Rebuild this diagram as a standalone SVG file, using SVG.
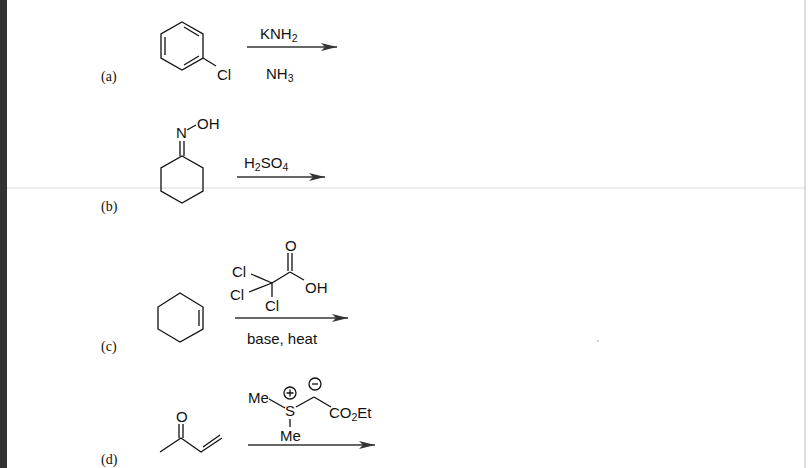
<svg xmlns="http://www.w3.org/2000/svg" width="808" height="468" viewBox="0 0 808 468">
<defs>
<marker id="ah" viewBox="0 0 16 8" refX="16" refY="4" markerWidth="16" markerHeight="8" markerUnits="userSpaceOnUse" orient="auto"><path d="M0,0 L16,4 L0,8 L4,4 Z" fill="#333"/></marker>
</defs>
<style>
.b{stroke:#111;stroke-width:1.3;fill:none}
.ar{stroke:#333;stroke-width:1.5;fill:none;marker-end:url(#ah)}
.t{font-family:"Liberation Sans",Arial,sans-serif;font-size:15px;fill:#111}
.s{font-size:10.5px}
.lab{font-family:"Liberation Serif","Times New Roman",serif;font-size:14px;fill:#111}
</style>
<rect width="808" height="468" fill="#fff"/>
<rect x="0" y="0" width="7" height="468" fill="#333"/>
<line x1="7" y1="188" x2="805" y2="188" stroke="#e6e6e6" stroke-width="1.5"/>
<line x1="805" y1="0" x2="805" y2="468" stroke="#bbb" stroke-width="1"/>
<g id="labels">
<text class="lab" x="101" y="81">(a)</text>
<text class="lab" x="101" y="211">(b)</text>
<text class="lab" x="101" y="351">(c)</text>
<text class="lab" x="101" y="464">(d)</text>
</g>
<g id="chlorobenzene">
<path class="b" d="M182,22 L203,34 L203,58 L182,70 L161,58 L161,34 Z"/>
<path class="b" d="M165,37 L165,55 M184,27 L199,36 M199,56 L184,65"/>
<line class="b" x1="203" y1="58" x2="216" y2="66"/>
<text class="t" x="217" y="80">Cl</text>
</g>
<g id="oxime">
<text class="t" x="176" y="138">N</text>
<line class="b" x1="187" y1="130" x2="196" y2="125"/>
<text class="t" x="197" y="129">OH</text>
<path class="b" d="M180,141 L180,156 M184,141 L184,156"/>
<path class="b" d="M182,156 L203,168 L203,191 L182,203 L161,191 L161,168 Z"/>
</g>
<g id="cyclohexene">
<path class="b" d="M180,293 L203,307 L203,329 L180,342 L158,329 L158,307 Z"/>
<line class="b" x1="199" y1="310" x2="199" y2="326"/>
</g>
<g id="tca">
<text class="t" x="285" y="251">O</text>
<path class="b" d="M288,253 L288,271 M292,253 L292,271"/>
<line class="b" x1="272" y1="283" x2="290" y2="272"/>
<line class="b" x1="290" y1="272" x2="304" y2="280"/>
<text class="t" x="305" y="293">OH</text>
<text class="t" x="232" y="277">Cl</text>
<line class="b" x1="251" y1="274" x2="272" y2="283"/>
<text class="t" x="230" y="300">Cl</text>
<line class="b" x1="249" y1="292" x2="272" y2="283"/>
<line class="b" x1="272" y1="283" x2="272" y2="297"/>
<text class="t" x="265" y="311">Cl</text>
</g>
<g id="enone">
<text class="t" x="176" y="422">O</text>
<path class="b" d="M179,424 L179,438 M183,424 L183,438"/>
<path class="b" d="M160,452 L181,438 L201,452 L222,438"/>
<line class="b" x1="203" y1="447" x2="220" y2="435"/>
</g>
<g id="ylide">
<text class="t" x="248" y="403">Me</text>
<line class="b" x1="269" y1="399" x2="285" y2="408"/>
<text class="t" x="285" y="416">S</text>
<circle cx="290" cy="393" r="6" class="b"/>
<path class="b" d="M286.5,393 h7 M290,389.5 v7"/>
<line class="b" x1="296" y1="407" x2="314" y2="397"/>
<circle cx="315" cy="384" r="6" class="b"/>
<line class="b" x1="312" y1="384" x2="318" y2="384"/>
<line class="b" x1="314" y1="397" x2="331" y2="407"/>
<text class="t" x="329" y="418">CO<tspan class="s" dy="3">2</tspan><tspan dy="-3">Et</tspan></text>
<line class="b" x1="290" y1="419" x2="290" y2="427"/>
<text class="t" x="280" y="441">Me</text>
</g>
<g id="connectors">
<line class="ar" x1="247" y1="47" x2="337" y2="47"/>
<line class="ar" x1="237" y1="177" x2="325" y2="177"/>
<line class="ar" x1="235" y1="318" x2="348" y2="318"/>
<line class="ar" x1="248" y1="445" x2="375" y2="445"/>
</g>
<g id="conditions">
<text class="t" x="260" y="39">KNH<tspan class="s" dy="3">2</tspan></text>
<text class="t" x="266" y="79">NH<tspan class="s" dy="3">3</tspan></text>
<text class="t" x="244" y="168">H<tspan class="s" dy="3">2</tspan><tspan dy="-3">SO</tspan><tspan class="s" dy="3">4</tspan></text>
<text class="t" x="247" y="344">base, heat</text>
</g>
<circle cx="598" cy="341" r="0.8" fill="#888"/>
</svg>
